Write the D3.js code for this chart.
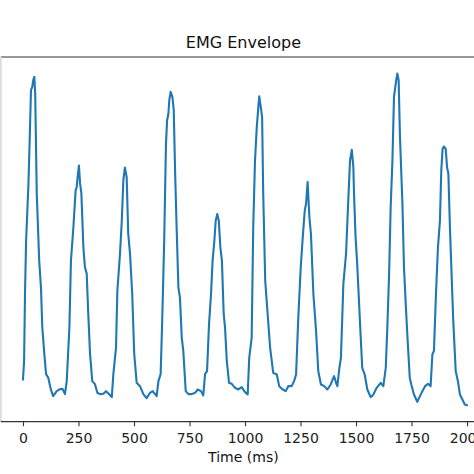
<!DOCTYPE html>
<html>
<head>
<meta charset="utf-8">
<script src="https://cdn.jsdelivr.net/npm/d3@7"></script>
<style>
  html, body { margin: 0; padding: 0; background: #fff; }
  svg { display: block; }
</style>
</head>
<body>
<div id="chart"></div>
<script>
// EMG envelope trace (amplitude in arbitrary units)
const timeMs = [
  0, 5, 9, 14, 24, 28, 36, 42, 46, 51, 55, 62, 73, 81, 87, 96, 104, 114, 125, 136,
  152, 167, 179, 189, 197, 209, 216, 227, 237, 242, 246, 252, 257, 263, 272, 279, 287, 294, 302, 312,
  324, 335, 347, 362, 374, 386, 400, 407, 419, 425, 437, 445, 452, 459, 467, 474, 482, 492, 501, 512,
  527, 542, 557, 572, 584, 602, 610, 620, 627, 636, 644, 649, 655, 659, 665, 673, 679, 685, 692, 700,
  707, 715, 722, 733, 745, 760, 775, 787, 802, 812, 820, 829, 838, 847, 854, 862, 868, 875, 882, 889,
  896, 904, 910, 918, 928, 940, 955, 970, 985, 997, 1003, 1012, 1019, 1030, 1037, 1045, 1053, 1060, 1064, 1071,
  1077, 1082, 1091, 1102, 1113, 1127, 1143, 1154, 1170, 1183, 1195, 1210, 1221, 1230, 1240, 1251, 1260, 1269, 1275, 1282,
  1290, 1297, 1308, 1320, 1330, 1342, 1357, 1371, 1386, 1401, 1410, 1416, 1425, 1432, 1443, 1455, 1465, 1473, 1481, 1488,
  1491, 1498, 1505, 1519, 1528, 1539, 1551, 1566, 1578, 1593, 1611, 1623, 1634, 1641, 1649, 1656, 1664, 1671, 1677, 1682,
  1686, 1692, 1698, 1709, 1716, 1724, 1731, 1742, 1749, 1761, 1776, 1788, 1799, 1811, 1824, 1836, 1844, 1851, 1860, 1869,
  1878, 1884, 1890, 1896, 1904, 1910, 1916, 1923, 1931, 1938, 1949, 1959, 1968, 1979, 1990, 1999
];
const envelope = [
  0.080, 0.136, 0.337, 0.497, 0.658, 0.748, 0.949, 0.959, 0.979, 0.989, 0.940, 0.639, 0.437, 0.356, 0.236, 0.157, 0.096, 0.085, 0.051, 0.030,
  0.045, 0.051, 0.051, 0.036, 0.075, 0.236, 0.437, 0.537, 0.648, 0.658, 0.688, 0.723, 0.669, 0.639, 0.477, 0.417, 0.398, 0.277, 0.157, 0.075,
  0.066, 0.040, 0.036, 0.037, 0.045, 0.037, 0.027, 0.096, 0.176, 0.346, 0.458, 0.557, 0.678, 0.717, 0.688, 0.518, 0.458, 0.337, 0.157, 0.070,
  0.060, 0.036, 0.024, 0.040, 0.045, 0.030, 0.075, 0.096, 0.256, 0.497, 0.788, 0.858, 0.879, 0.919, 0.944, 0.929, 0.889, 0.708, 0.537, 0.356,
  0.326, 0.206, 0.166, 0.045, 0.036, 0.036, 0.040, 0.050, 0.045, 0.032, 0.096, 0.105, 0.247, 0.337, 0.437, 0.497, 0.557, 0.577, 0.557, 0.477,
  0.437, 0.277, 0.236, 0.136, 0.070, 0.067, 0.055, 0.050, 0.057, 0.045, 0.040, 0.035, 0.145, 0.206, 0.537, 0.738, 0.838, 0.898, 0.931, 0.898,
  0.868, 0.638, 0.377, 0.276, 0.176, 0.100, 0.095, 0.060, 0.050, 0.045, 0.060, 0.060, 0.075, 0.095, 0.266, 0.417, 0.507, 0.587, 0.608, 0.673,
  0.567, 0.517, 0.336, 0.226, 0.105, 0.065, 0.060, 0.050, 0.065, 0.090, 0.070, 0.060, 0.115, 0.145, 0.367, 0.457, 0.617, 0.738, 0.770, 0.718,
  0.638, 0.507, 0.431, 0.236, 0.115, 0.095, 0.050, 0.027, 0.035, 0.055, 0.070, 0.060, 0.115, 0.236, 0.397, 0.597, 0.738, 0.929, 0.959, 0.984,
  0.999, 0.979, 0.808, 0.608, 0.417, 0.306, 0.216, 0.085, 0.065, 0.035, 0.013, 0.030, 0.045, 0.060, 0.067, 0.060, 0.156, 0.166, 0.336, 0.477,
  0.557, 0.708, 0.773, 0.780, 0.773, 0.718, 0.698, 0.537, 0.386, 0.256, 0.105, 0.075, 0.035, 0.020, 0.005, 0.003
];
const xTicks = [0, 250, 500, 750, 1000, 1250, 1500, 1750, 2000];
const chartTitle = 'EMG Envelope';
const xLabel = 'Time (ms)';

function drawEnvelope() {
    const width = 474, height = 474;
    // axes box (the figure is cropped: right part of the axes runs past the edge)
    const box = { left: 0.8, right: 489, top: 57, bottom: 421.7 };
    const font = '"DejaVu Sans", sans-serif';

    const data = timeMs.map((t, i) => ({ t, v: envelope[i] }));

    const svg = d3.select('#chart')
        .append('svg')
        .attr('width', width)
        .attr('height', height);

    // matplotlib-style 5% margins
    const [tMin, tMax] = d3.extent(timeMs);
    const [vMin, vMax] = d3.extent(envelope);
    const tPad = (tMax - tMin) * 0.05, vPad = (vMax - vMin) * 0.05;

    const x = d3.scaleLinear()
        .domain([tMin - tPad, tMax + tPad])
        .range([box.left, box.right]);
    const y = d3.scaleLinear()
        .domain([vMin - vPad, vMax + vPad])
        .range([box.bottom, box.top]);

    // Line
    svg.append('path')
        .datum(data)
        .attr('fill', 'none')
        .attr('stroke', '#1f77b4')
        .attr('stroke-width', 2.1)
        .attr('stroke-linejoin', 'round')
        .attr('stroke-linecap', 'square')
        .attr('d', d3.line().x(d => x(d.t)).y(d => y(d.v)));

    // Spines
    svg.append('line')
        .attr('x1', box.left).attr('x2', box.right)
        .attr('y1', box.top).attr('y2', box.top)
        .attr('stroke', '#333').attr('stroke-width', 1.2);
    svg.append('line')
        .attr('x1', box.left).attr('x2', box.left)
        .attr('y1', box.top).attr('y2', box.bottom)
        .attr('stroke', '#dcdcdc').attr('stroke-width', 2);

    // X axis
    const xAxis = svg.append('g')
        .attr('transform', `translate(0,${box.bottom})`)
        .call(d3.axisBottom(x).tickValues(xTicks).tickFormat(d3.format('d'))
            .tickSize(4.5).tickPadding(6.5).tickSizeOuter(0));
    xAxis.select('.domain').remove();
    xAxis.selectAll('.tick line').attr('stroke', '#333').attr('stroke-width', 1.1);
    xAxis.selectAll('.tick text')
        .attr('fill', '#222')
        .attr('font-family', font)
        .attr('font-size', 14);
    svg.append('line')
        .attr('x1', box.left).attr('x2', box.right)
        .attr('y1', box.bottom).attr('y2', box.bottom)
        .attr('stroke', '#333').attr('stroke-width', 1.2);

    // Labels
    const cx = (box.left + box.right) / 2 - 1.5;
    svg.append('text')
        .attr('x', cx)
        .attr('y', 48)
        .attr('text-anchor', 'middle')
        .attr('fill', '#111')
        .attr('font-family', font)
        .attr('font-size', 16)
        .text(chartTitle);
    svg.append('text')
        .attr('x', cx)
        .attr('y', 462)
        .attr('text-anchor', 'middle')
        .attr('fill', '#111')
        .attr('font-family', font)
        .attr('font-size', 14)
        .text(xLabel);
}

drawEnvelope();
</script>
</body>
</html>
